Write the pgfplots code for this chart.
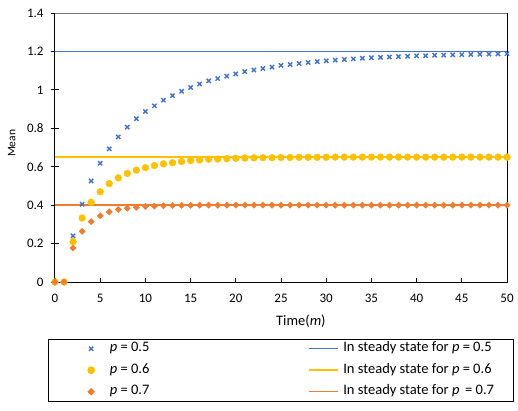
\documentclass[border=0pt]{standalone}
\usepackage{pgfplots}
\pgfplotsset{compat=1.18}
\usepackage{fontspec}
\setmainfont{Carlito}
\definecolor{sblue}{RGB}{68,114,196}
\definecolor{syellow}{RGB}{255,192,0}
\definecolor{sorange}{RGB}{237,125,49}
\pgfplotsset{
  mylegmark/.style={legend image code/.code={\path (0pt,0pt) (55pt,0pt); \draw[##1] plot coordinates {(39pt,0pt)};}},
  myleglin/.style={legend image code/.code={\path (0pt,0pt) (32pt,0pt); \draw[##1] (0pt,0pt) -- (29pt,0pt);}},
}
\begin{document}
\begin{tikzpicture}
\path[use as bounding box] (-55pt,-128pt) rectangle (463pt,282pt);
\begin{axis}[
  scale only axis, width=452pt, height=269pt,
  xmin=0, xmax=50, ymin=0, ymax=1.4,
  clip=false,
  xtick={0,5,10,15,20,25,30,35,40,45,50},
  ytick={0,0.2,0.4,0.6,0.8,1,1.2,1.4},
  yticklabels={0,0.2,0.4,0.6,0.8,1,1.2,1.4},
  /pgf/number format/assume math mode=true,
  tick label style={font=\fontsize{13}{15}\selectfont},
  xtick pos=bottom, ytick pos=left,
  tick align=inside, major tick length=4.3pt,
  extra y ticks={0,0.2,0.4,0.6,0.8,1,1.2,1.4},
  extra y tick labels={},
  extra y tick style={tick align=outside},
  tick style={black, line width=0.9pt},
  axis line style={black, line width=1pt},
  yticklabel style={xshift=-8pt},
  xticklabel style={yshift=-9pt},
  xlabel={Time(\textit{m})},
  ylabel={Mean},
  xlabel style={at={(axis description cs:0.544,0)}, anchor=center, yshift=-39pt, font=\fontsize{14.5}{17}\selectfont},
  ylabel style={at={(axis description cs:-0.0958,0.5152)}, anchor=center, font=\fontsize{11.5}{13}\selectfont},
  legend columns=2,
  legend cell align=left,
  legend style={
    at={(axis description cs:-0.0155,-0.2119)}, anchor=north west,
    draw=black, line width=0.9pt,
    inner xsep=3pt, inner ysep=0pt,
    column sep=0pt, row sep=3pt,
    nodes={inner sep=2pt, text height=10.5pt, text depth=4pt},
    font=\fontsize{14.5}{17}\selectfont,
  },
  after end axis/.code={\draw[black!55, line width=1pt] (rel axis cs:0,1) -- (rel axis cs:1,1);},
]
% steady state lines
\addplot[color=sblue, line width=1.5pt, forget plot] coordinates {(0,1.2) (50,1.2)};
\addplot[color=syellow, line width=1.5pt, forget plot] coordinates {(0,0.65) (50,0.65)};
\addplot[color=sorange, line width=1.5pt, forget plot] coordinates {(0,0.4) (50,0.4)};

\addplot[only marks, mark=x, mark size=3pt, color=sblue, line width=1.4pt, mylegmark] coordinates {
(0,0) (1,0) (2,0.24) (3,0.405) (4,0.526) (5,0.618) (6,0.693) (7,0.755) (8,0.806) (9,0.85)
(10,0.887) (11,0.917) (12,0.946) (13,0.970) (14,0.993) (15,1.012) (16,1.031) (17,1.047) (18,1.059) (19,1.071)
(20,1.083) (21,1.095) (22,1.103) (23,1.111) (24,1.118) (25,1.127) (26,1.132) (27,1.137) (28,1.142) (29,1.147)
(30,1.151) (31,1.155) (32,1.158) (33,1.161) (34,1.164) (35,1.167) (36,1.169) (37,1.171) (38,1.173) (39,1.175)
(40,1.177) (41,1.178) (42,1.180) (43,1.181) (44,1.182) (45,1.183) (46,1.184) (47,1.185) (48,1.186) (49,1.187)
(50,1.188)};
\addlegendentry{\makebox[196pt][l]{\textit{p} = 0.5}}
\addlegendimage{color=sblue, line width=1.5pt, myleglin}
\addlegendentry{\makebox[165pt][l]{In steady state for \textit{p} = 0.5}}

\addplot[only marks, mark=*, mark size=3.4pt, color=syellow, mylegmark] coordinates {
(0,0) (1,0) (2,0.21) (3,0.333) (4,0.415) (5,0.47) (6,0.512) (7,0.542) (8,0.565) (9,0.582)
(10,0.595) (11,0.606) (12,0.615) (13,0.621) (14,0.627) (15,0.632) (16,0.635) (17,0.639) (18,0.640) (19,0.642)
(20,0.644) (21,0.645) (22,0.646) (23,0.647) (24,0.647) (25,0.648) (26,0.648) (27,0.649) (28,0.649) (29,0.649)
(30,0.649) (31,0.65) (32,0.65) (33,0.65) (34,0.65) (35,0.65) (36,0.65) (37,0.65) (38,0.65) (39,0.65)
(40,0.65) (41,0.65) (42,0.65) (43,0.65) (44,0.65) (45,0.65) (46,0.65) (47,0.65) (48,0.65) (49,0.65)
(50,0.65)};
\addlegendentry{\makebox[196pt][l]{\textit{p} = 0.6}}
\addlegendimage{color=syellow, line width=1.5pt, myleglin}
\addlegendentry{\makebox[165pt][l]{In steady state for \textit{p} = 0.6}}

\addplot[only marks, mark=square*, mark options={rotate=45}, mark size=2.2pt, color=sorange, mylegmark] coordinates {
(0,0) (1,0) (2,0.177) (3,0.264) (4,0.314) (5,0.345) (6,0.365) (7,0.377) (8,0.384) (9,0.389)
(10,0.393) (11,0.395) (12,0.397) (13,0.398) (14,0.399) (15,0.399) (16,0.4) (17,0.4) (18,0.4) (19,0.4)
(20,0.4) (21,0.4) (22,0.4) (23,0.4) (24,0.4) (25,0.4) (26,0.4) (27,0.4) (28,0.4) (29,0.4)
(30,0.4) (31,0.4) (32,0.4) (33,0.4) (34,0.4) (35,0.4) (36,0.4) (37,0.4) (38,0.4) (39,0.4)
(40,0.4) (41,0.4) (42,0.4) (43,0.4) (44,0.4) (45,0.4) (46,0.4) (47,0.4) (48,0.4) (49,0.4)
(50,0.4)};
\addlegendentry{\makebox[196pt][l]{\textit{p} = 0.7}}
\addlegendimage{color=sorange, line width=1.5pt, myleglin}
\addlegendentry{\makebox[165pt][l]{In steady state for \textit{p}\, = 0.7}}
\end{axis}
\end{tikzpicture}
\end{document}
